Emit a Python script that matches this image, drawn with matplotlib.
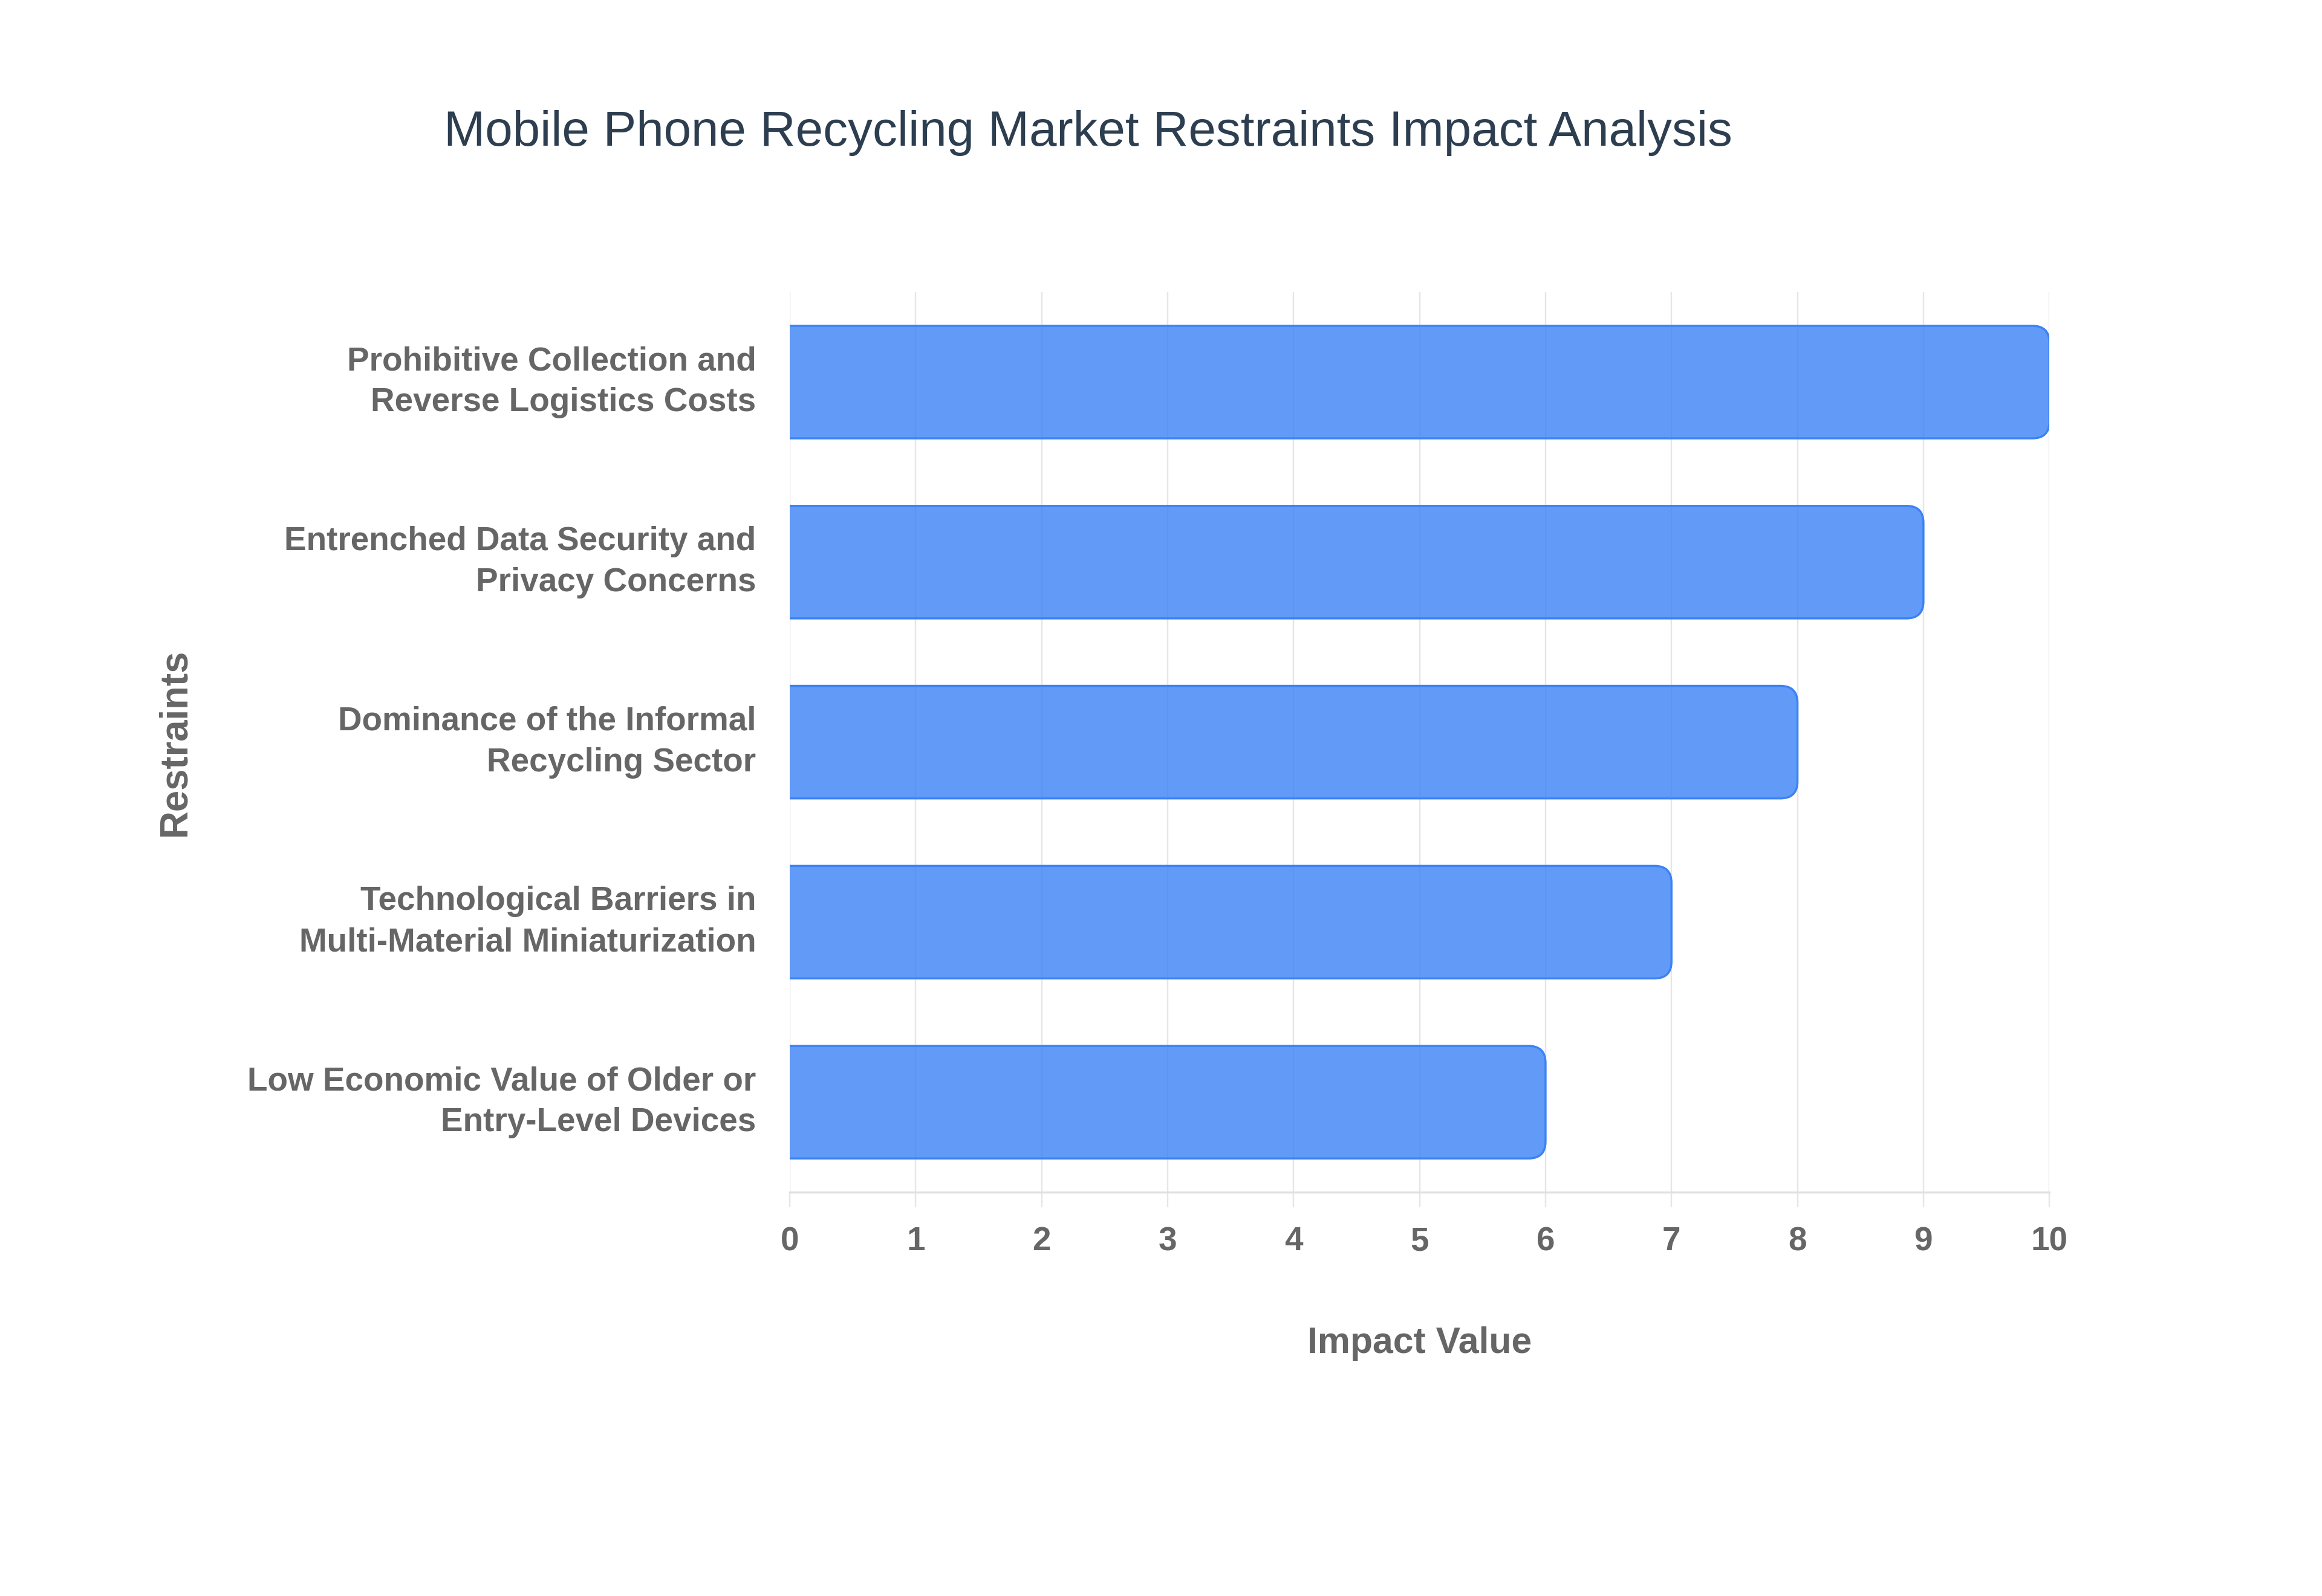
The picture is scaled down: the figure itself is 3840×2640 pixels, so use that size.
import matplotlib
matplotlib.use("Agg")
import matplotlib.pyplot as plt
from matplotlib.patches import FancyBboxPatch

# data, top bar first
restraints = [
    "Prohibitive Collection and\nReverse Logistics Costs",
    "Entrenched Data Security and\nPrivacy Concerns",
    "Dominance of the Informal\nRecycling Sector",
    "Technological Barriers in\nMulti-Material Miniaturization",
    "Low Economic Value of Older or\nEntry-Level Devices",
]
impact = [10, 9, 8, 7, 6]
x_ticks = [0, 1, 2, 3, 4, 5, 6, 7, 8, 9, 10]

grey_txt = "#666666"
grid_col = "#e6e6e6"
bar_col = "#3b82f6"

plt.rcParams["font.family"] = ["Liberation Sans", "DejaVu Sans"]

fig = plt.figure(figsize=(15.36, 10.56), dpi=250)
ax = fig.add_axes([0.3401, 0.253, 0.5425, 0.564])

pos = list(range(len(restraints)))
bars = ax.barh(pos, impact, height=0.625, color=bar_col)

ax.set_xlim(0, 10)
ax.set_ylim(len(restraints) - 0.5, -0.5)

# swap plain rectangles for ones with rounded right end
w_px = 0.5425 * 3840
h_px = 0.564 * 2640
r = 28 * 10 / w_px
aspect = (5 / h_px) / (10 / w_px)
for b in bars:
    x0, y0, w, h = b.get_x(), b.get_y(), b.get_width(), b.get_height()
    b.remove()
    p = FancyBboxPatch((x0 - 2 * r, y0), w + 2 * r, h,
                       boxstyle=f"round,pad=0,rounding_size={r}",
                       mutation_aspect=aspect,
                       facecolor=(0.231, 0.510, 0.965, 0.8),
                       edgecolor=bar_col, linewidth=1.0, zorder=2)
    ax.add_patch(p)

ax.set_xticks(x_ticks)
ax.set_yticks(pos)
ax.set_yticklabels(restraints, fontsize=15.8, fontweight="bold",
                   color=grey_txt, linespacing=1.4, va="center")
ax.tick_params(axis="y", length=0, pad=16)
ax.tick_params(axis="x", length=7.2, width=0.7, color=grid_col,
               labelsize=15.8, labelcolor=grey_txt, pad=9)
for t in ax.get_xticklabels():
    t.set_fontweight("bold")

ax.grid(axis="x", color=grid_col, linewidth=0.7, zorder=0)
ax.set_axisbelow(True)
for s in ["top", "right", "left"]:
    ax.spines[s].set_visible(False)
ax.spines["bottom"].set_color("#e0e0e0")
ax.spines["bottom"].set_linewidth(1.0)

ax.set_xlabel("Impact Value", fontsize=17.5, fontweight="bold", color=grey_txt)
ax.xaxis.set_label_coords(0.5, -0.168)
ax.xaxis.label.set_verticalalignment("center")
ax.set_ylabel("Restraints", fontsize=18.3, fontweight="bold", color=grey_txt)
ax.yaxis.set_label_coords(-0.488, 0.5)
ax.yaxis.label.set_verticalalignment("center")

fig.text(0.4687, 1 - 241 / 2640, "Mobile Phone Recycling Market Restraints Impact Analysis",
         ha="center", va="baseline", fontsize=23.55, color="#2c3e50")

fig.savefig("out.png", dpi=250, facecolor="white")
